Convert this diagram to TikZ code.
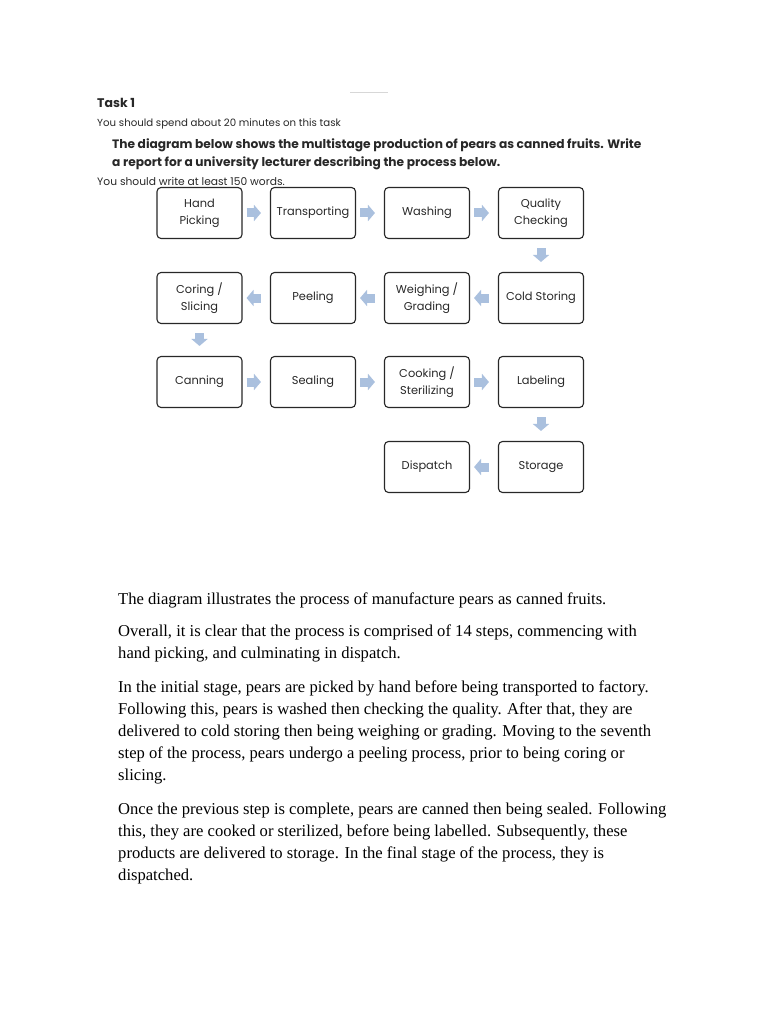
\documentclass[tikz,border=0pt]{standalone}
\usepackage{fontspec}
\setmainfont{Liberation Serif}
\newfontfamily\geo{Poppins}
\usetikzlibrary{arrows.meta}
\definecolor{arrowblue}{RGB}{170,192,222}
\definecolor{ink}{RGB}{40,40,40}
\definecolor{rule}{RGB}{215,215,215}
\begin{document}
\begin{tikzpicture}[x=1pt,y=-1pt,
  stepbox/.style={draw=ink, line width=1.1pt, rounded corners=4pt,
    minimum width=85pt, minimum height=51pt, align=center, inner sep=0pt,
    text=ink, font=\geo\fontsize{11.4}{17}\selectfont},
  flow/.style={draw=arrowblue, line width=9pt, -{Triangle[width=16pt,length=7pt]}},
  head/.style={anchor=west, inner sep=0pt, text=ink},
  essay/.style={anchor=base west, inner sep=0pt, text=black, font=\fontsize{16.6}{20}\selectfont}]
\fill[white] (0,0) rectangle (768,1024);
\useasboundingbox (0,0) rectangle (768,1024);
\draw[rule, line width=1pt] (350,93) -- (388,93);
% header
\node[head, font=\geo\bfseries\fontsize{12.5}{14}\selectfont] (task) at (97,103) {Task 1};
\node[head, font=\geo\fontsize{10.2}{12}\selectfont] (spend) at (97,124) {You should spend about 20 minutes on this task};
\node[head, font=\geo\bfseries\fontsize{12.2}{14}\selectfont] (q1) at (112,145) {The diagram below shows the multistage production of pears as canned fruits. Write};
\node[head, font=\geo\bfseries\fontsize{12.2}{14}\selectfont] (q2) at (112,163) {a report for a university lecturer describing the process below.};
\node[head, font=\geo\fontsize{10.7}{12}\selectfont] (words) at (97,181) {You should write at least 150 words.};
% boxes
\node[stepbox] (hp) at (199.5,213) {Hand\\Picking};
\node[stepbox] (tr) at (313,213) {Transporting};
\node[stepbox] (wa) at (427,213) {Washing};
\node[stepbox] (qc) at (541,213) {Quality\\Checking};
\node[stepbox] (cs) at (541,298) {Cold Storing};
\node[stepbox] (wg) at (427,298) {Weighing /\\Grading};
\node[stepbox] (pe) at (313,298) {Peeling};
\node[stepbox] (co) at (199.5,298) {Coring /\\Slicing};
\node[stepbox] (ca) at (199.5,382) {Canning};
\node[stepbox] (se) at (313,382) {Sealing};
\node[stepbox] (ck) at (427,382) {Cooking /\\Sterilizing};
\node[stepbox] (la) at (541,382) {Labeling};
\node[stepbox] (st) at (541,467) {Storage};
\node[stepbox] (di) at (427,467) {Dispatch};
% arrows
\draw[flow, shorten <=4pt, shorten >=9pt] (hp.east) -- (tr.west);
\draw[flow, shorten <=4pt, shorten >=9pt] (tr.east) -- (wa.west);
\draw[flow, shorten <=4pt, shorten >=9pt] (wa.east) -- (qc.west);
\draw[flow, shorten <=9pt, shorten >=10pt] (qc.south) -- (cs.north);
\draw[flow, shorten <=9pt, shorten >=4pt] (cs.west) -- (wg.east);
\draw[flow, shorten <=9pt, shorten >=4pt] (wg.west) -- (pe.east);
\draw[flow, shorten <=9pt, shorten >=4pt] (pe.west) -- (co.east);
\draw[flow, shorten <=9pt, shorten >=10pt] (co.south) -- (ca.north);
\draw[flow, shorten <=4pt, shorten >=9pt] (ca.east) -- (se.west);
\draw[flow, shorten <=4pt, shorten >=9pt] (se.east) -- (ck.west);
\draw[flow, shorten <=4pt, shorten >=9pt] (ck.east) -- (la.west);
\draw[flow, shorten <=9pt, shorten >=10pt] (la.south) -- (st.north);
\draw[flow, shorten <=9pt, shorten >=4pt] (st.west) -- (di.east);
% essay
\node[essay] (e1) at (118,604) {The diagram illustrates the process of manufacture pears as canned fruits.};
\node[essay] (e2) at (118,636) {Overall, it is clear that the process is comprised of 14 steps, commencing with};
\node[essay] (e3) at (118,658) {hand picking, and culminating in dispatch.};
\node[essay] (e4) at (118,692) {In the initial stage, pears are picked by hand before being transported to factory.};
\node[essay] (e5) at (118,714) {Following this, pears is washed then checking the quality. After that, they are};
\node[essay] (e6) at (118,736) {delivered to cold storing then being weighing or grading. Moving to the seventh};
\node[essay] (e7) at (118,758) {step of the process, pears undergo a peeling process, prior to being coring or};
\node[essay] (e8) at (118,780) {slicing.};
\node[essay] (e9) at (118,814) {Once the previous step is complete, pears are canned then being sealed. Following};
\node[essay] (e10) at (118,836) {this, they are cooked or sterilized, before being labelled. Subsequently, these};
\node[essay] (e11) at (118,858) {products are delivered to storage. In the final stage of the process, they is};
\node[essay] (e12) at (118,880) {dispatched.};
\end{tikzpicture}
\end{document}
